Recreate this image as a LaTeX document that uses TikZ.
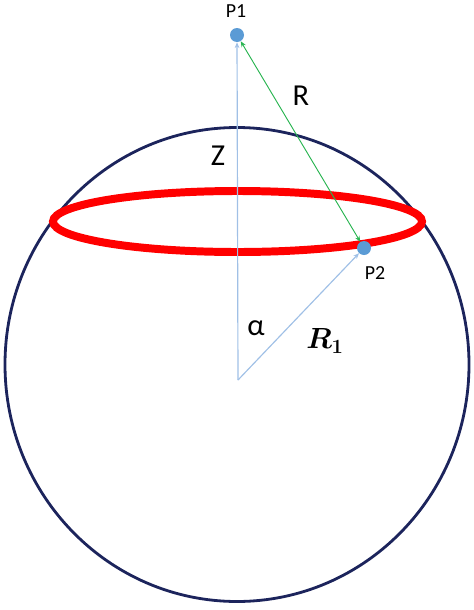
\documentclass[tikz,border=0pt]{standalone}
\usepackage{amsmath}
\usepackage{fontspec}
\setmainfont{Carlito}
\usetikzlibrary{arrows.meta, positioning}
\definecolor{navy}{RGB}{28,36,92}
\definecolor{vecblue}{RGB}{160,192,230}
\definecolor{dotblue}{RGB}{91,155,213}
\definecolor{linkgreen}{RGB}{40,180,80}

\begin{document}
\begin{tikzpicture}[x=0.03cm, y=-0.03cm,
  dot/.style = {circle, fill=dotblue, inner sep=0pt, minimum size=14*0.03cm},
  vec/.style = {vecblue, line width=1pt, -{Stealth[length=5pt,width=4pt]}},
  lbl/.style = {font=\fontsize{26}{28}\selectfont, text=black},
  ptlbl/.style = {font=\fontsize{17}{19}\selectfont, text=black}]
\useasboundingbox (0,0) rectangle (474,610);
% sphere and ring
\draw[navy, line width=2.4pt] (237,364.5) ellipse[x radius=232, y radius=237];
\draw[red, line width=6.8pt] (237.5,221.5) ellipse[x radius=184.5, y radius=30.5];
% points
\coordinate (O) at (238,380);
\node[dot] (P1) at (237,35) {};
\node[dot] (P2) at (364,248) {};
\node[ptlbl] (l1) at (236,11) {P1};
\node[ptlbl] (l2) at (375,273) {P2};
% vectors
\draw[vec] (O) -- (P1);
\draw[vec] (O) -- (P2);
\draw[linkgreen, line width=0.8pt, {Stealth[length=5pt,width=4pt]}-{Stealth[length=5pt,width=4pt]}] (P1) -- (P2);
% labels
\node[lbl] (z) at (218,156) {Z};
\node[lbl] (r) at (301,96) {R};
\node[lbl] (a) at (256,328) {α};
\node[lbl] (r1) at (325,341) {$\boldsymbol{R_1}$};
\end{tikzpicture}
\end{document}
